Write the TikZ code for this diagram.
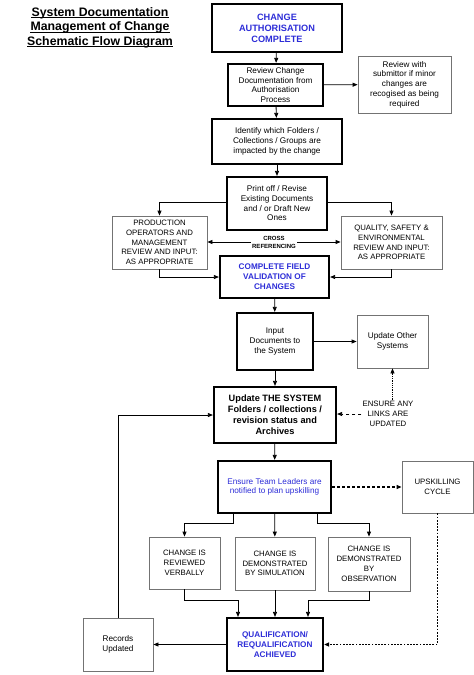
\documentclass[tikz,border=0pt]{standalone}
\usepackage{fontspec}
\setmainfont{Liberation Sans}
\usetikzlibrary{arrows.meta, positioning}
\definecolor{chgblue}{RGB}{45,45,215}

\begin{document}
\begin{tikzpicture}[x=1pt,y=-1pt,>={Triangle[length=5pt,width=4pt]},
 key/.style = {draw=black, line width=2.2pt, align=center, inner sep=1pt,
   font=\fontsize{8.2}{9.7}\selectfont},
 side/.style = {draw=black!55, line width=0.8pt, align=center, inner sep=1pt,
   font=\fontsize{7.8}{9.8}\selectfont},
 bluetxt/.style = {text=chgblue, font=\bfseries\fontsize{8.2}{9.9}\selectfont},
 bigtxt/.style = {font=\bfseries\fontsize{9.2}{10.9}\selectfont},
 titleline/.style = {anchor=base, inner sep=0pt, font=\bfseries\fontsize{12.3}{14.5}\selectfont},
 flow/.style = {->, line width=0.8pt},
 dotflow/.style = {->, line width=1.4pt, dash pattern=on 1.8pt off 1.4pt},
]
\useasboundingbox (0,0) rectangle (474,675);

% title, underlined line by line
\node (title1)[titleline] at (100,16) {System Documentation};
\node (title2)[titleline] at (100,30.5) {Management of Change};
\node (title3)[titleline] at (100,45) {Schematic Flow Diagram};
\foreach \t in {title1,title2,title3}
  \draw[line width=0.9pt] ([yshift=-1.8pt]\t.base west) -- ([yshift=-1.8pt]\t.base east);

% main column
\node (auth)[key, bigtxt, text=chgblue, minimum width=130, minimum height=48] at (277,28)
  {CHANGE\\ AUTHORISATION\\ COMPLETE};
\node (review)[key, minimum width=95, minimum height=42] at (275.5,85)
  {Review Change\\ Documentation from\\ Authorisation\\ Process};
\node (submit)[side, font=\fontsize{8.2}{9.8}\selectfont, minimum width=93, minimum height=57] at (404.5,84.5)
  {Review with\\ submittor if minor\\ changes are\\ recogised as being\\ required};
\node (identify)[key, minimum width=130, minimum height=45] at (277,141.5)
  {Identify which Folders /\\ Collections / Groups are\\ impacted by the change};
\node (print)[key, minimum width=100, minimum height=53] at (277,203.5)
  {Print off / Revise\\ Existing Documents\\ and / or Draft New\\ Ones};
\node (prod)[side, minimum width=95, minimum height=53] at (159.5,242.5)
  {PRODUCTION\\ OPERATORS AND\\ MANAGEMENT\\ REVIEW AND INPUT:\\ AS APPROPRIATE};
\node (qual)[side, minimum width=101, minimum height=53] at (391.5,242.5)
  {QUALITY, SAFETY \&\\ ENVIRONMENTAL\\ REVIEW AND INPUT:\\ AS APPROPRIATE};
\node (crossref)[align=center, inner sep=1pt, font=\bfseries\fontsize{6}{8}\selectfont] at (274,242)
  {CROSS\\ REFERENCING};
\node (field)[key, bluetxt, minimum width=109, minimum height=42] at (274.5,277)
  {COMPLETE FIELD\\ VALIDATION OF\\ CHANGES};
\node (input)[key, minimum width=76, minimum height=57] at (275,341.5)
  {Input\\ Documents to\\ the System};
\node (other)[side, font=\fontsize{8.2}{9.8}\selectfont, minimum width=71, minimum height=53] at (392.5,341.5)
  {Update Other\\ Systems};
\node (update)[key, bigtxt, minimum width=122, minimum height=56] at (275,415)
  {Update THE SYSTEM\\ Folders / collections /\\ revision status and\\ Archives};
\node (links)[align=center, inner sep=1pt, font=\fontsize{7.8}{9.8}\selectfont] at (388,414)
  {ENSURE ANY\\ LINKS ARE\\ UPDATED};
\node (team)[key, text=chgblue, minimum width=113, minimum height=52] at (274.5,487)
  {Ensure Team Leaders are\\ notified to plan upskilling};
\node (upskill)[side, minimum width=71, minimum height=52] at (437.5,487)
  {UPSKILLING\\ CYCLE};
\node (verb)[side, minimum width=71, minimum height=52] at (184.5,563)
  {CHANGE IS\\ REVIEWED\\ VERBALLY};
\node (sim)[side, minimum width=80, minimum height=53] at (275,563.5)
  {CHANGE IS\\ DEMONSTRATED\\ BY SIMULATION};
\node (obs)[side, minimum width=82, minimum height=54] at (369,564)
  {CHANGE IS\\ DEMONSTRATED\\ BY\\ OBSERVATION};
\node (achieved)[key, bluetxt, minimum width=96, minimum height=53] at (275,644.5)
  {QUALIFICATION/\\ REQUALIFICATION\\ ACHIEVED};
\node (records)[side, font=\fontsize{8.2}{9.8}\selectfont, minimum width=70, minimum height=53] at (118,644.5)
  {Records\\ Updated};

% connectors
\draw[flow] (auth) -- (review);
\draw[flow] (review) -- (submit);
\draw[flow] (review) -- (identify);
\draw[flow] (identify) -- (print);
\draw[flow] ([yshift=1.5pt]print.west) -| (prod.north);
\draw[flow] ([yshift=1.5pt]print.east) -| (qual.north);
\draw[flow] (crossref.west) -- (prod.east |- crossref.west);
\draw[flow] (crossref.east) -- (qual.west |- crossref.east);
\draw[flow] (prod.south) |- (field.west);
\draw[flow] (qual.south) |- (field.east);
\draw[flow] (field) -- (input);
\draw[flow] (input) -- (other);
\draw[flow] (input) -- (update);
\draw[flow, dashed] (links.west) -- (update.east |- links.west);
\draw[flow, densely dotted] (other.south |- links.north) -- (other.south);
\draw[flow] (update) -- (team);
\draw[flow, densely dashed, line width=1.4pt] (team) -- (upskill);
\draw[dotflow] (upskill.south) |- (achieved.east);
\draw[flow] ([xshift=-41.5pt]team.south) -- ++(0,9) -| (verb.north);
\draw[flow] (team) -- (sim);
\draw[flow] ([xshift=42.5pt]team.south) -- ++(0,9) -| (obs.north);
\draw[flow] (verb.south) -- ++(0,11) -| ([xshift=-37pt]achieved.north);
\draw[flow] (sim) -- (achieved);
\draw[flow] (obs.south) -- ++(0,9) -| ([xshift=33pt]achieved.north);
\draw[flow] (achieved) -- (records);
\draw[flow] (records.north) |- (update.west);
\end{tikzpicture}
\end{document}
